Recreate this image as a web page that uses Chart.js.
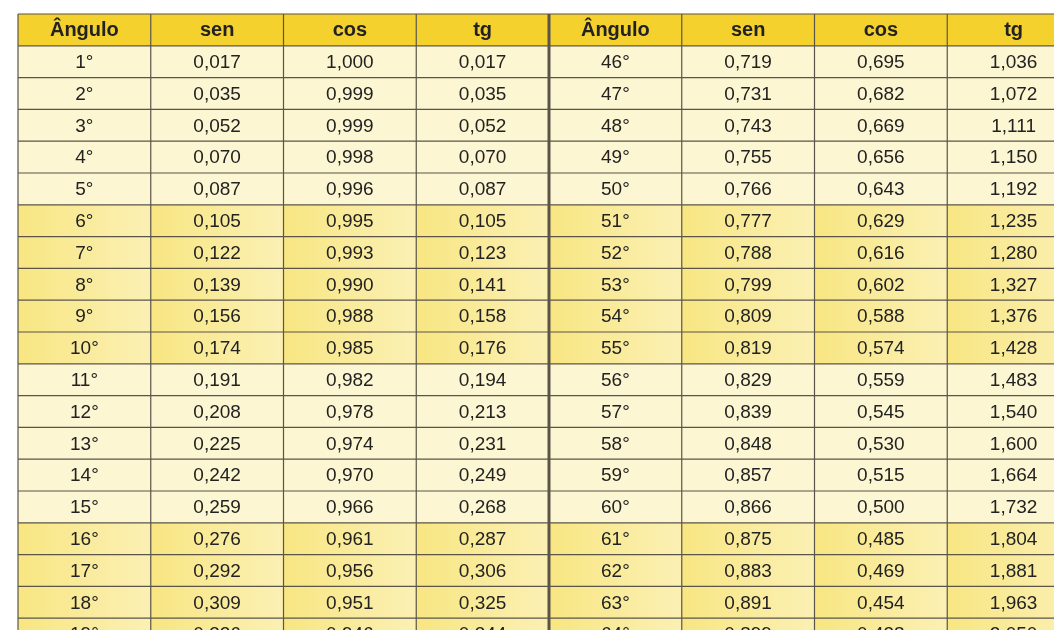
<!DOCTYPE html>
<html><head><meta charset="utf-8">
<script src="https://cdn.jsdelivr.net/npm/chart.js@4/dist/chart.umd.min.js"></script>
<style>html,body{margin:0;padding:0;overflow:hidden;background:#fff}#wrap{width:1080px;height:650px}</style>
</head><body><div id="wrap"><canvas id="tbl"></canvas></div>
<script>
// cabeçalhos e linhas
const columns = ["Ângulo", "sen", "cos", "tg", "Ângulo ", "sen ", "cos ", "tg "];
const rowKeys = ["h", "r1","r2","r3","r4","r5","r6","r7","r8","r9","r10","r11","r12","r13","r14","r15","r16","r17","r18","r19"];

const anglesLeft = ["1°","2°","3°","4°","5°","6°","7°","8°","9°","10°","11°","12°","13°","14°","15°","16°","17°","18°","19°"];
const senLeft = ["0,017","0,035","0,052","0,070","0,087","0,105","0,122","0,139","0,156","0,174","0,191","0,208","0,225","0,242","0,259","0,276","0,292","0,309","0,326"];
const cosLeft = ["1,000","0,999","0,999","0,998","0,996","0,995","0,993","0,990","0,988","0,985","0,982","0,978","0,974","0,970","0,966","0,961","0,956","0,951","0,946"];
const tgLeft = ["0,017","0,035","0,052","0,070","0,087","0,105","0,123","0,141","0,158","0,176","0,194","0,213","0,231","0,249","0,268","0,287","0,306","0,325","0,344"];

const anglesRight = ["46°","47°","48°","49°","50°","51°","52°","53°","54°","55°","56°","57°","58°","59°","60°","61°","62°","63°","64°"];
const senRight = ["0,719","0,731","0,743","0,755","0,766","0,777","0,788","0,799","0,809","0,819","0,829","0,839","0,848","0,857","0,866","0,875","0,883","0,891","0,899"];
const cosRight = ["0,695","0,682","0,669","0,656","0,643","0,629","0,616","0,602","0,588","0,574","0,559","0,545","0,530","0,515","0,500","0,485","0,469","0,454","0,438"];
const tgRight = ["1,036","1,072","1,111","1,150","1,192","1,235","1,280","1,327","1,376","1,428","1,483","1,540","1,600","1,664","1,732","1,804","1,881","1,963","2,050"];

const colData = [anglesLeft, senLeft, cosLeft, tgLeft, anglesRight, senRight, cosRight, tgRight];

const tablePlugin = {
  id: "tablePlugin",
  beforeDatasetsDraw(chart) {
    const ctx = chart.ctx;
    const xs = chart.scales.x, ys = chart.scales.y;
    const cw = xs.getPixelForValue(1) - xs.getPixelForValue(0);
    const rh = ys.getPixelForValue(1) - ys.getPixelForValue(0);
    ctx.save();
    // fundos
    rowKeys.forEach((rk, r) => {
      const yc = ys.getPixelForValue(r);
      const top = yc - rh / 2;
      columns.forEach((c, ci) => {
        const xc = xs.getPixelForValue(ci);
        const left = xc - cw / 2;
        let fill;
        if (r === 0) fill = "#f5d12e";
        else {
          const band = Math.floor((r - 1) / 5) % 2;
          if (band === 0) fill = "#fcf6d2";
          else {
            const g = ctx.createLinearGradient(left, 0, left + cw, 0);
            g.addColorStop(0, "#f8e682");
            g.addColorStop(1, "#fbf0b4");
            fill = g;
          }
        }
        ctx.fillStyle = fill;
        ctx.fillRect(left, top, cw, rh);
      });
    });
    // linhas
    ctx.strokeStyle = "#5a5548";
    ctx.lineWidth = 1.2;
    for (let r = 0; r <= rowKeys.length; r++) {
      const y = ys.getPixelForValue(0) - rh / 2 + r * rh;
      ctx.beginPath(); ctx.moveTo(xs.left, y); ctx.lineTo(xs.right, y); ctx.stroke();
    }
    for (let c = 0; c <= columns.length; c++) {
      const x = xs.getPixelForValue(0) - cw / 2 + c * cw;
      ctx.lineWidth = c === 4 ? 3 : 1.2;
      ctx.beginPath(); ctx.moveTo(x, ys.top); ctx.lineTo(x, ys.bottom); ctx.stroke();
    }
    // textos
    ctx.fillStyle = "#222";
    ctx.textAlign = "center";
    ctx.textBaseline = "middle";
    columns.forEach((c, ci) => {
      const xc = xs.getPixelForValue(ci);
      ctx.font = "bold 20px 'Liberation Sans', Arial, sans-serif";
      ctx.fillText(c.trim(), xc, ys.getPixelForValue(0) + 1);
      ctx.font = "19px 'Liberation Sans', Arial, sans-serif";
      colData[ci].forEach((v, r) => {
        ctx.fillText(v, xc, ys.getPixelForValue(r + 1) + 1);
      });
    });
    ctx.restore();
  }
};

new Chart(document.getElementById("tbl"), {
  type: "bar",
  data: { labels: columns, datasets: [] },
  options: {
    responsive: true,
    maintainAspectRatio: false,
    animation: false,
    layout: { padding: { left: 18, top: 14, right: 0, bottom: 0 } },
    scales: {
      x: { type: "category", labels: columns, display: false, offset: true },
      y: { type: "category", labels: rowKeys, display: false, offset: true }
    },
    plugins: { legend: { display: false }, tooltip: { enabled: false } }
  },
  plugins: [tablePlugin]
});
</script></body></html>
